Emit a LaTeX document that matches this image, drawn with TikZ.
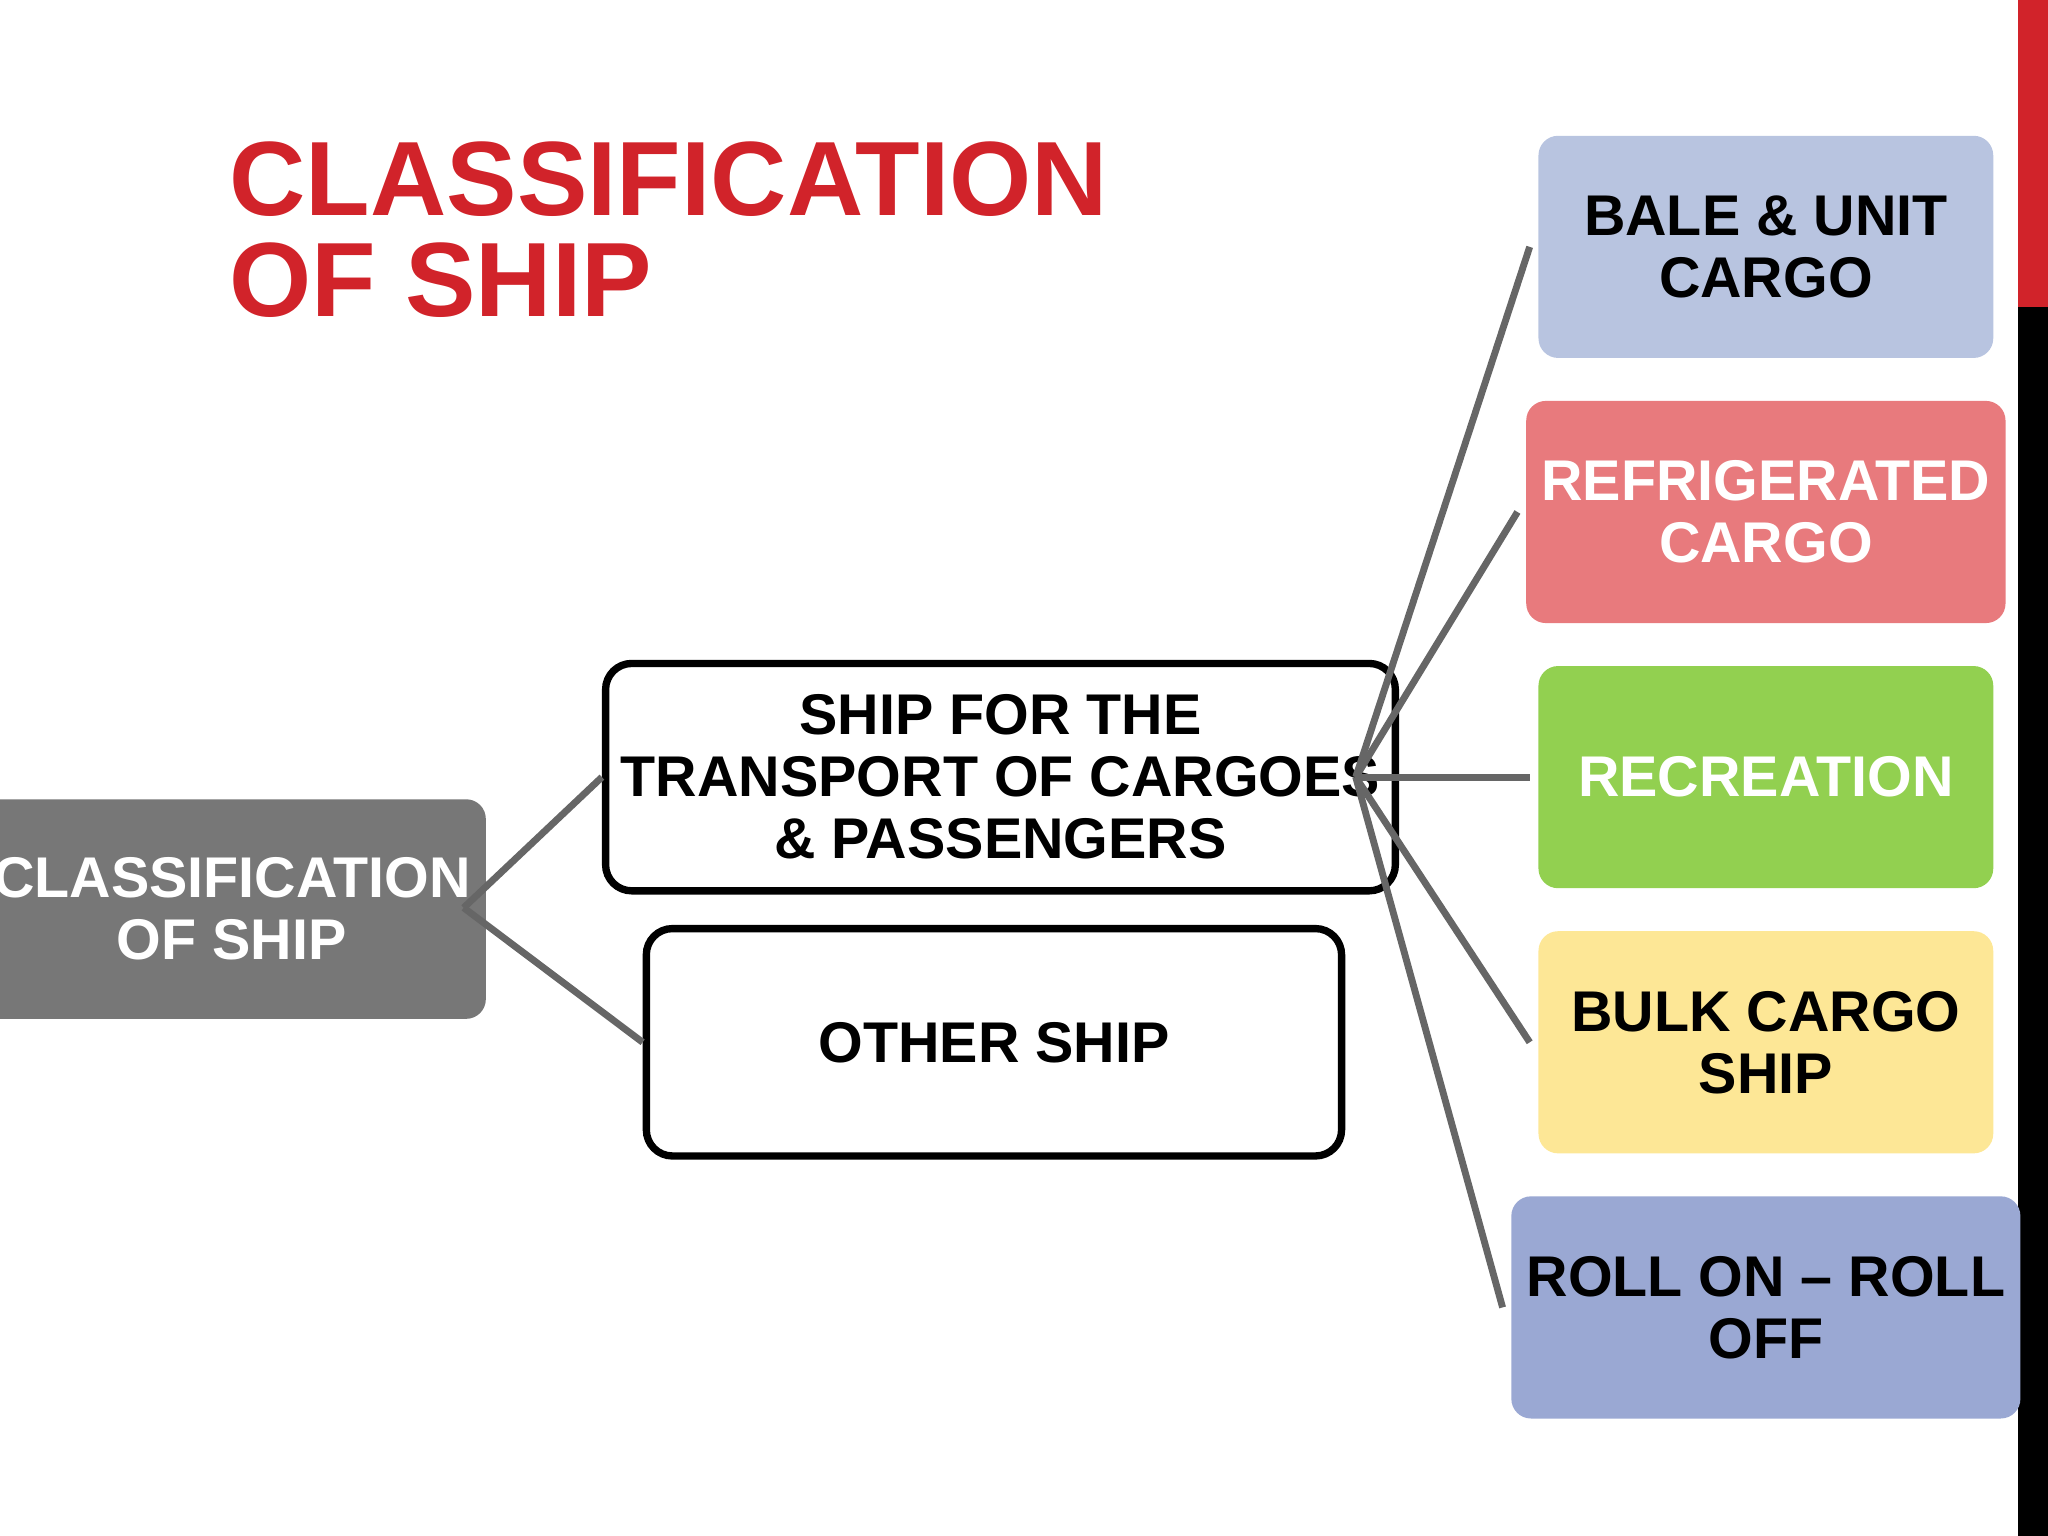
\documentclass[tikz,border=0pt]{standalone}
\usepackage{fontspec}
\setmainfont{Liberation Sans}
\definecolor{ttl}{HTML}{D1232A}
\definecolor{gbox}{HTML}{777777}
\definecolor{lnk}{HTML}{666666}
\definecolor{c1}{HTML}{B8C4E0}
\definecolor{c2}{HTML}{E87A7D}
\definecolor{c3}{HTML}{92D050}
\definecolor{c4}{HTML}{FDE796}
\definecolor{c5}{HTML}{9AA8D3}
\begin{document}
\begin{tikzpicture}[x=0.01cm,y=-0.01cm,
  lab/.style={font=\bfseries\fontsize{12.5}{13.5}\selectfont,align=center},
  rbox/.style={lab,rounded corners=0.15cm,minimum width=3.48cm,minimum height=1.7cm,draw=none},
  mbox/.style={lab,rounded corners=0.2cm,draw=black,line width=1.6pt,minimum height=1.74cm},
  lk/.style={draw=lnk,line width=1.5pt}]
\useasboundingbox (0,0) rectangle (1568,1176);
\fill[ttl] (1545,0) rectangle (1568,235);
\fill[black] (1545,235) rectangle (1568,1176);
\node[anchor=north west,text=ttl,font=\bfseries\fontsize{23}{24}\selectfont,align=left,inner sep=0] (title) at (175,108) {CLASSIFICATION\\[-2pt]OF SHIP};
\node[rbox,fill=gbox,text=white,minimum width=3.45cm,minimum height=1.68cm] (root) at (177.5,696) {CLASSIFICATION\\OF SHIP};
\node[mbox,minimum width=5.38cm] (m1) at (766,595) {SHIP FOR THE\\TRANSPORT OF CARGOES\\\& PASSENGERS};
\node[mbox,minimum width=5.32cm] (m2) at (761,798) {OTHER SHIP};
\node[rbox,fill=c1] (r1) at (1352,189) {BALE \& UNIT\\CARGO};
\node[rbox,fill=c2,text=white] (r2) at (1352,392) {REFRIGERATED\\CARGO};
\node[rbox,fill=c3,text=white] (r3) at (1352,595) {RECREATION};
\node[rbox,fill=c4] (r4) at (1352,798) {BULK CARGO\\SHIP};
\node[rbox,fill=c5] (r5) at (1352,1001) {ROLL ON -- ROLL\\OFF};
\coordinate (rs) at (355,695);
\coordinate (ms) at (1038,595);
\draw[lk] (rs) -- (m1.west);
\draw[lk] (rs) -- (m2.west);
\foreach \r in {r1,r2,r3,r4,r5} \draw[lk] (ms) -- ([xshift=-0.06cm]\r.west);
\end{tikzpicture}
\end{document}
